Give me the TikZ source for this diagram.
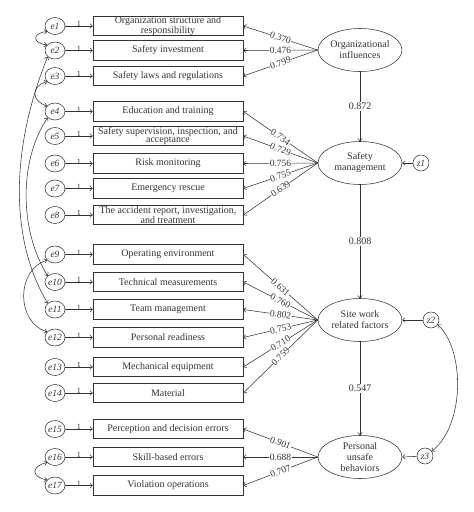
\documentclass[tikz,border=0pt]{standalone}
\usepackage{fontspec}
\setmainfont{Liberation Serif}
\usetikzlibrary{arrows.meta,shapes.geometric}
\begin{document}
\begin{tikzpicture}[x=1pt,y=-1pt,
  line width=0.55pt, draw=black!80,
  every node/.style={text=black!80},
  obs/.style={draw=black!80, line width=0.6pt, minimum width=150pt, minimum height=19.5pt, inner sep=0pt, align=center, font=\fontsize{10}{8.6}\selectfont},
  err/.style={draw=black!80, ellipse, minimum width=20pt, minimum height=17pt, inner sep=0pt, font=\fontsize{9.5}{9.5}\selectfont\itshape},
  lat/.style={draw=black!80, ellipse, minimum width=84pt, minimum height=43pt, inner sep=0pt, align=center, font=\fontsize{10}{11}\selectfont},
  dist/.style={draw=black!80, circle, minimum size=16pt, inner sep=0pt, font=\fontsize{9.5}{9.5}\selectfont\itshape},
  arr/.style={-{To[length=3pt,width=5pt]}},
  barr/.style={{To[length=3pt,width=5pt]}-{To[length=3pt,width=5pt]}},
  ld/.style={pos=0.5, sloped, fill=white, inner sep=0.4pt, font=\fontsize{9.5}{9.5}\selectfont},
  vl/.style={pos=0.5, fill=white, inner sep=1.5pt, font=\fontsize{10}{10}\selectfont},
  one/.style={pos=0.5, anchor=south, inner sep=0pt, yshift=-1.2pt, font=\fontsize{8}{8}\selectfont}
]
\useasboundingbox (0,0) rectangle (474,512);

% observed variables and error terms
\foreach \i/\yy/\txt in {
  1/26/{Organization structure and\\responsibility},
  2/50.5/{Safety investment},
  3/76/{Safety laws and regulations},
  4/111.5/{Education and training},
  5/136/{Safety supervision, inspection, and\\acceptance},
  6/163.5/{Risk monitoring},
  7/188.5/{Emergency rescue},
  8/215/{The accident report, investigation,\\and treatment},
  9/254.5/{Operating environment},
  10/282/{Technical measurements},
  11/309.5/{Team management},
  12/337.5/{Personal readiness},
  13/367/{Mechanical equipment},
  14/393/{Material},
  15/429/{Perception and decision errors},
  16/457/{Skill-based errors},
  17/485.5/{Violation operations}}
{
  \node[obs] (b\i) at (168,\yy) {\txt};
  \node[err] (e\i) at (55,\yy) {e\i};
  \draw[arr] (e\i) -- node[one] {1} (b\i);
}

% latent variables
\node[lat] (O) at (360,50) {Organizational\\influences};
\node[lat] (S) at (360,163) {Safety\\management};
\node[lat] (W) at (360,320) {Site work\\related factors};
\node[lat] (P) at (360,457) {Personal\\unsafe\\behaviors};

\node[dist] (z1) at (421,163) {z1};
\node[dist] (z2) at (431,320) {z2};
\node[dist] (z3) at (425,456) {z3};

% loadings
\draw[arr] (O.west) -- node[ld] {0.370} (b1.east);
\draw[arr] (O.west) -- node[ld] {0.476} (b2.east);
\draw[arr] (O.west) -- node[ld] {0.799} (b3.east);

\draw[arr] (S.west) -- node[ld] {0.734} (b4.east);
\draw[arr] (S.west) -- node[ld] {0.729} (b5.east);
\draw[arr] (S.west) -- node[ld] {0.756} (b6.east);
\draw[arr] (S.west) -- node[ld] {0.755} (b7.east);
\draw[arr] (S.west) -- node[ld] {0.639} (b8.east);

\draw[arr] (W.west) -- node[ld] {0.631} (b9.east);
\draw[arr] (W.west) -- node[ld] {0.760} (b10.east);
\draw[arr] (W.west) -- node[ld] {0.802} (b11.east);
\draw[arr] (W.west) -- node[ld] {0.753} (b12.east);
\draw[arr] (W.west) -- node[ld] {0.710} (b13.east);
\draw[arr] (W.west) -- node[ld] {0.759} (b14.east);

\draw[arr] (P.west) -- node[ld] {0.901} (b15.east);
\draw[arr] (P.west) -- node[ld] {0.688} (b16.east);
\draw[arr] (P.west) -- node[ld] {0.707} (b17.east);

% structural paths
\draw[arr] (O.south) -- node[vl] {0.872} (S.north);
\draw[arr] (S.south) -- node[vl] {0.808} (W.north);
\draw[arr] (W.south) -- node[vl] {0.547} (P.north);

\draw[arr] (z1) -- (S.east);
\draw[arr] (z2) -- (W.east);
\draw[arr] (z3) -- (P.east);

\draw[barr] (z2.-35) .. controls (465,350) and (465,425) .. (z3.35);

% error covariances
\draw[barr] (e1.215) .. controls (32,33) and (32,43) .. (e2.145);
\draw[barr] (e3.215) .. controls (31,86) and (31,101) .. (e4.145);
\draw[barr] (e2.220) .. controls (10,150) and (10,240) .. (e11.140);
\draw[barr] (e4.220) .. controls (19,160) and (19,230) .. (e10.140);
\draw[barr] (e9.215) .. controls (16,270) and (16,322) .. (e12.145);
\draw[barr] (e16.215) .. controls (31,466) and (31,477) .. (e17.145);
\end{tikzpicture}
\end{document}
